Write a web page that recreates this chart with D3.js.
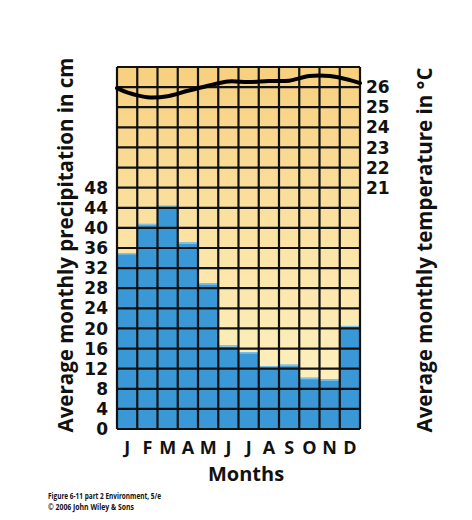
<!DOCTYPE html>
<html>
<head>
<meta charset="utf-8">
<script src="https://cdn.jsdelivr.net/npm/d3@7"></script>
<style>
  body { margin: 0; background: #fff; }
  text { font-family: "Open Sans", "Noto Sans", sans-serif; font-weight: 700; fill: #111; }
  text.tick { font-family: "DejaVu Sans", sans-serif; }
</style>
</head>
<body>
<div id="chart"></div>
<script>
// data
const months = ["J", "F", "M", "A", "M", "J", "J", "A", "S", "O", "N", "D"];
const precipitation = [35, 40.8, 44.4, 37.1, 29, 16.6, 15.3, 12.5, 12.8, 10.2, 9.9, 20.5];
const temperature = [25.74, 25.5, 25.55, 25.82, 26.07, 26.28, 26.25, 26.3, 26.32, 26.55, 26.55, 26.35];
const tempStart = 25.95, tempEnd = 26.2;
const precipTicks = [0, 4, 8, 12, 16, 20, 24, 28, 32, 36, 40, 44, 48];
const tempTicks = [21, 22, 23, 24, 25, 26];

const W = 472, H = 520;
const plotL = 117, plotR = 360, plotT = 67, plotB = 429;
const rowH = (plotB - plotT) / 18;
const mid = plotB - rowH * 12;

const svg = d3.select("#chart").append("svg")
    .attr("width", W)
    .attr("height", H);

const x = d3.scaleBand().domain(d3.range(12)).range([plotL, plotR]).paddingInner(0);
const yP = d3.scaleLinear().domain([0, 48]).range([plotB, mid]);
const yT = d3.scaleLinear().domain([21, 27]).range([mid, plotT]);

const defs = svg.append("defs");
const grad = defs.append("linearGradient")
    .attr("id", "bg").attr("x1", 0).attr("y1", 0).attr("x2", 0).attr("y2", 1);
grad.append("stop").attr("offset", "0%").attr("stop-color", "#f7d07f");
grad.append("stop").attr("offset", "55%").attr("stop-color", "#fce6aa");
grad.append("stop").attr("offset", "100%").attr("stop-color", "#fef3c6");

svg.append("rect")
    .attr("x", plotL).attr("y", plotT)
    .attr("width", plotR - plotL).attr("height", plotB - plotT)
    .attr("fill", "url(#bg)");

// precipitation bars
svg.selectAll("rect.bar")
    .data(precipitation)
    .enter()
    .append("rect")
    .attr("class", "bar")
    .attr("x", (d, i) => x(i))
    .attr("y", d => yP(d))
    .attr("width", x.bandwidth())
    .attr("height", d => plotB - yP(d))
    .attr("fill", "#3a98d6");

svg.selectAll("line.bartop")
    .data(precipitation)
    .enter()
    .append("line")
    .attr("class", "bartop")
    .attr("x1", (d, i) => x(i))
    .attr("x2", (d, i) => x(i) + x.bandwidth())
    .attr("y1", d => yP(d) + 0.8)
    .attr("y2", d => yP(d) + 0.8)
    .attr("stroke", "#7cc3ec")
    .attr("stroke-width", 1.6);

// grid
const grid = svg.append("g").attr("stroke", "#111").attr("stroke-width", 2.2);
grid.selectAll("line.h")
    .data(d3.range(19))
    .enter()
    .append("line")
    .attr("x1", plotL).attr("x2", plotR)
    .attr("y1", d => plotT + d * rowH)
    .attr("y2", d => plotT + d * rowH);
grid.selectAll("line.v")
    .data(d3.range(13))
    .enter()
    .append("line")
    .attr("y1", plotT).attr("y2", plotB)
    .attr("x1", d => plotL + d * x.bandwidth())
    .attr("x2", d => plotL + d * x.bandwidth());

// temperature line
const tPts = [[plotL, tempStart]]
    .concat(temperature.map((t, i) => [x(i) + x.bandwidth() / 2, t]))
    .concat([[plotR, tempEnd]]);
svg.append("path")
    .datum(tPts)
    .attr("fill", "none")
    .attr("stroke", "#000")
    .attr("stroke-width", 4)
    .attr("stroke-linecap", "round")
    .attr("d", d3.line().x(d => d[0]).y(d => yT(d[1])).curve(d3.curveCatmullRom));

// left axis labels
svg.append("g").selectAll("text")
    .data(precipTicks)
    .enter()
    .append("text")
    .attr("class", "tick")
    .attr("x", 108)
    .attr("y", d => yP(d))
    .attr("dy", "0.36em")
    .attr("text-anchor", "end")
    .style("font-size", "17px")
    .text(d => d);

// right axis labels
svg.append("g").selectAll("text")
    .data(tempTicks)
    .enter()
    .append("text")
    .attr("class", "tick")
    .attr("x", 366)
    .attr("y", d => yT(d))
    .attr("dy", "0.36em")
    .style("font-size", "17px")
    .text(d => d);

// month labels
svg.append("g").selectAll("text")
    .data(months)
    .enter()
    .append("text")
    .attr("x", (d, i) => x(i) + x.bandwidth() / 2)
    .attr("y", 454)
    .attr("text-anchor", "middle")
    .style("font-size", "18px")
    .text(d => d);

svg.append("text")
    .attr("x", 246).attr("y", 481)
    .attr("text-anchor", "middle")
    .style("font-size", "20px")
    .text("Months");

svg.append("text")
    .attr("transform", "translate(73,245) rotate(-90)")
    .attr("text-anchor", "middle")
    .attr("textLength", 375)
    .attr("lengthAdjust", "spacingAndGlyphs")
    .style("font-size", "21px")
    .text("Average monthly precipitation in cm");

svg.append("text")
    .attr("transform", "translate(432,250) rotate(-90)")
    .attr("text-anchor", "middle")
    .attr("textLength", 365)
    .attr("lengthAdjust", "spacingAndGlyphs")
    .style("font-size", "21px")
    .text("Average monthly temperature in °C");

svg.append("text")
    .attr("x", 48).attr("y", 499)
    .attr("textLength", 113)
    .attr("lengthAdjust", "spacingAndGlyphs")
    .style("font-size", "8px")
    .text("Figure 6-11 part 2  Environment, 5/e");
svg.append("text")
    .attr("x", 48).attr("y", 510)
    .attr("textLength", 86)
    .attr("lengthAdjust", "spacingAndGlyphs")
    .style("font-size", "8px")
    .text("© 2006 John Wiley & Sons");
</script>
</body>
</html>
